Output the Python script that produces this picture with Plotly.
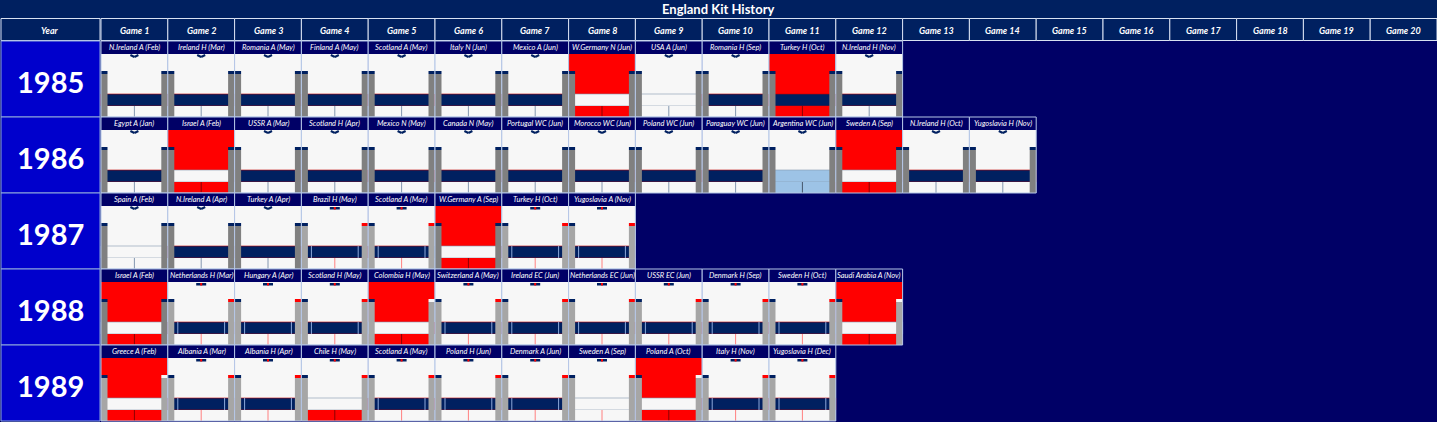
import plotly.graph_objects as go

years = ["1985", "1986", "1987", "1988", "1989"]
game_headers = [f"Game {i}" for i in range(1, 21)]

labels = {
    "1985": ["N.Ireland A (Feb)", "Ireland H (Mar)", "Romania A (May)", "Finland A (May)", "Scotland A (May)", "Italy N (Jun)", "Mexico A (Jun)", "W.Germany N (Jun)", "USA A (Jun)", "Romania H (Sep)", "Turkey H (Oct)", "N.Ireland H (Nov)"],
    "1986": ["Egypt A (Jan)", "Israel A (Feb)", "USSR A (Mar)", "Scotland H (Apr)", "Mexico N (May)", "Canada N (May)", "Portugal WC (Jun)", "Morocco WC (Jun)", "Poland WC (Jun)", "Paraguay WC (Jun)", "Argentina WC (Jun)", "Sweden A (Sep)", "N.Ireland H (Oct)", "Yugoslavia H (Nov)"],
    "1987": ["Spain A (Feb)", "N.Ireland A (Apr)", "Turkey A (Apr)", "Brazil H (May)", "Scotland A (May)", "W.Germany A (Sep)", "Turkey H (Oct)", "Yugoslavia A (Nov)"],
    "1988": ["Israel A (Feb)", "Netherlands H (Mar)", "Hungary A (Apr)", "Scotland H (May)", "Colombia H (May)", "Switzerland A (May)", "Ireland EC (Jun)", "Netherlands EC (Jun)", "USSR EC (Jun)", "Denmark H (Sep)", "Sweden H (Oct)", "Saudi Arabia A (Nov)"],
    "1989": ["Greece A (Feb)", "Albania A (Mar)", "Albania H (Apr)", "Chile H (May)", "Scotland A (May)", "Poland H (Jun)", "Denmark A (Jun)", "Sweden A (Sep)", "Poland A (Oct)", "Italy H (Nov)", "Yugoslavia H (Dec)"],
}
shirts = {
    "1985": "WWWWWWWRWWRW", "1986": "WRWWWWWWWWWRWW", "1987": "WWWWWRWW",
    "1988": "RWWWRWWWWWWR", "1989": "RWWWWWWWRWW",
}
shorts = {
    "1985": "NNNNNNNWWNNN", "1986": "NWNNNNNNNNLWNN", "1987": "WNNNNWNN",
    "1988": "WNNNWNNNNNNW", "1989": "WNNWNNNWWNN",
}
socks = {
    "1985": "WWWWWWWRWWRW", "1986": "WRWWWWWWWWLRWW", "1987": "WWWWWRWW",
    "1988": "RWWWRWWWWWWR", "1989": "RWWRWWWWRWW",
}
styles = {  # O = old kit, N = new kit
    "1985": "OOOOOOOOOOOO", "1986": "OOOOOOOOOOOOOO", "1987": "OOONNONN",
    "1988": "ONNNNNNNNNNN", "1989": "NNNNNNNNNNN",
}

C = {"W": "#f7f7f7", "R": "#ff0000", "N": "#002060", "L": "#9dc3e6"}
BG = "#000066"
X0, CW = 101, 66.8
TOP, RH = 41, 76

shapes, ann = [], []
def rect(x0, y0, x1, y1, fill, line=None, lw=0):
    shapes.append(dict(type="rect", x0=x0, y0=y0, x1=x1, y1=y1, fillcolor=fill,
                       line=dict(color=line or fill, width=lw), layer="above"))
def seg(x0, y0, x1, y1, color, w=1):
    shapes.append(dict(type="line", x0=x0, y0=y0, x1=x1, y1=y1, line=dict(color=color, width=w), layer="above"))

rect(0, 0, 1437, 18, "#002060")
ann.append(dict(x=718, y=9, text="<b>England Kit History</b>", showarrow=False, font=dict(size=13, color="white")))
rect(0, 18, 1437, 41, "#002060")
rect(1, 18.5, 100, 40.5, "#002060", "#d9e1f2", 1)
ann.append(dict(x=50, y=30, text="<b><i>Year</i></b>", showarrow=False, font=dict(size=9, color="white")))
for i, g in enumerate(game_headers):
    x = X0 + i * CW
    rect(x, 18.5, x + CW, 40.5, "#002060", "#d9e1f2", 1)
    ann.append(dict(x=x + CW / 2, y=30, text=f"<b><i>{g}</i></b>", showarrow=False, font=dict(size=9, color="white")))

for r, yr in enumerate(years):
    y = TOP + r * RH
    rect(1, y, 100, y + RH, "#0000cc", "#8ea9db", 1)
    ann.append(dict(x=50, y=y + RH / 2 + 2, text=f"<b>{yr}</b>", showarrow=False, font=dict(size=29, color="white")))
    for i, lab in enumerate(labels[yr]):
        x = X0 + i * CW
        x1 = x + CW
        sh, so, sk, st = shirts[yr][i], shorts[yr][i], socks[yr][i], styles[yr][i]
        ky0, kyb, kys, ky1 = y + 13, y + 53, y + 65, y + RH
        rect(x, y, x1, ky0, BG)
        ann.append(dict(x=x + CW / 2, y=y + 6.5, text=f"<i>{lab}</i>", showarrow=False, font=dict(size=7.5, color="white")))
        rect(x, ky0, x1, kyb, C[sh])
        rect(x, kyb, x1, kys, C[so], "#c00000" if so == "N" else "#8497b0", 0.6)
        if st == "N" and so == "N":
            seg(x + 10, kyb, x + 10, kys, "#8ea9db")
            seg(x1 - 10, kyb, x1 - 10, kys, "#8ea9db")
        rect(x, kys, x1, ky1, C[sk])
        lc = "#8b0000" if sk == "R" else ("#ff8080" if st == "N" else "#8497b0")
        if sk == "L":
            lc = "#44546a"
        seg(x + CW / 2, kys, x + CW / 2, ky1, lc, 1)
        gray = "#808080" if st == "O" else "#a6a6a6"
        sy = ky0 + 17
        rect(x, sy + 3, x + 6.5, ky1, gray)
        rect(x1 - 6.5, sy + 3, x1, ky1, gray)
        if st == "O":
            rect(x, sy, x + 6.5, sy + 3, "#002060")
            rect(x1 - 6.5, sy, x1, sy + 3, "#002060")
            if sh == "W":
                seg(x + CW / 2 - 4, ky0 + 1, x + CW / 2, ky0 + 3, "#002060", 2)
                seg(x + CW / 2, ky0 + 3, x + CW / 2 + 4, ky0 + 1, "#002060", 2)
        else:
            rect(x, sy, x + 6.5, sy + 3, "#002060")
            rect(x1 - 6.5, sy, x1, sy + 3, "#ff0000" if sh == "W" else "#f7f7f7")
            if sh == "W":
                rect(x + CW / 2 - 5, ky0 + 1, x + CW / 2 + 5, ky0 + 3.5, "#002060")
                rect(x + CW / 2 - 1, ky0 + 1, x + CW / 2 + 1, ky0 + 3.5, "#ff0000")
        shapes.append(dict(type="rect", x0=x, y0=y, x1=x1, y1=ky1, line=dict(color="#b4c6e7", width=1), layer="above"))

fig = go.Figure()
fig.add_trace(go.Scatter(x=[0, 1437], y=[0, 422], mode="markers", marker=dict(opacity=0), hoverinfo="skip"))
fig.update_layout(
    width=1437, height=422, margin=dict(l=0, r=0, t=0, b=0),
    paper_bgcolor=BG, plot_bgcolor=BG, showlegend=False,
    font=dict(family="Lato, Open Sans, sans-serif"),
    xaxis=dict(range=[0, 1437], visible=False, fixedrange=True),
    yaxis=dict(range=[422, 0], visible=False, fixedrange=True),
    shapes=shapes, annotations=ann,
)
fig.write_html("out.html", config={"displayModeBar": False},
               post_script="document.body.style.margin='0';document.body.style.overflow='hidden';")
